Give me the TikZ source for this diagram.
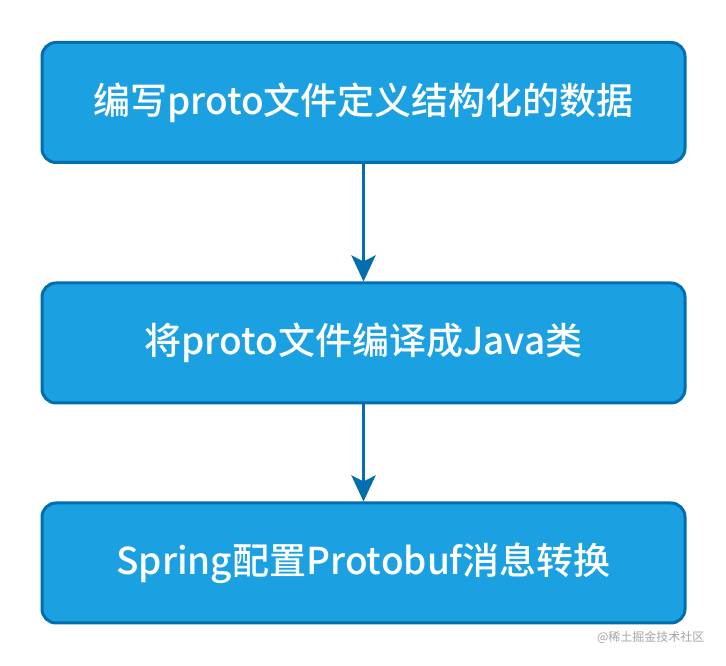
\documentclass[tikz,border=0pt]{standalone}
\usepackage{fontspec}
\setmainfont{Noto Sans CJK SC}[BoldFont={Noto Sans CJK SC Medium}]
\usetikzlibrary{arrows.meta}
\definecolor{boxfill}{HTML}{1BA1E2}
\definecolor{boxline}{HTML}{006EAF}
\tikzset{stepbox/.style={draw=boxline,fill=boxfill,line width=3pt,rounded corners=14pt,minimum width=643pt,minimum height=120pt,text=white,font=\fontsize{37}{42}\selectfont\bfseries},
conn/.style={draw=boxline,line width=3.5pt,-{Stealth[length=26pt,width=24pt,inset=6pt]}}}
\begin{document}
\begin{tikzpicture}[x=1pt,y=1pt]
\useasboundingbox (0,0) rectangle (726,666);
\node[stepbox] (a) at (363.5,563.5) {编写proto文件定义结构化的数据};
\node[stepbox] (b) at (363.5,323) {将proto文件编译成Java类};
\node[stepbox] (c) at (363.5,103) {Spring配置Protobuf消息转换};
\draw[conn] (a) -- (b);
\draw[conn] (b) -- (c);
\node[text=gray!70,font=\fontsize{12}{14}\selectfont,anchor=east] (w) at (708,29) {@稀土掘金技术社区};
\end{tikzpicture}
\end{document}
